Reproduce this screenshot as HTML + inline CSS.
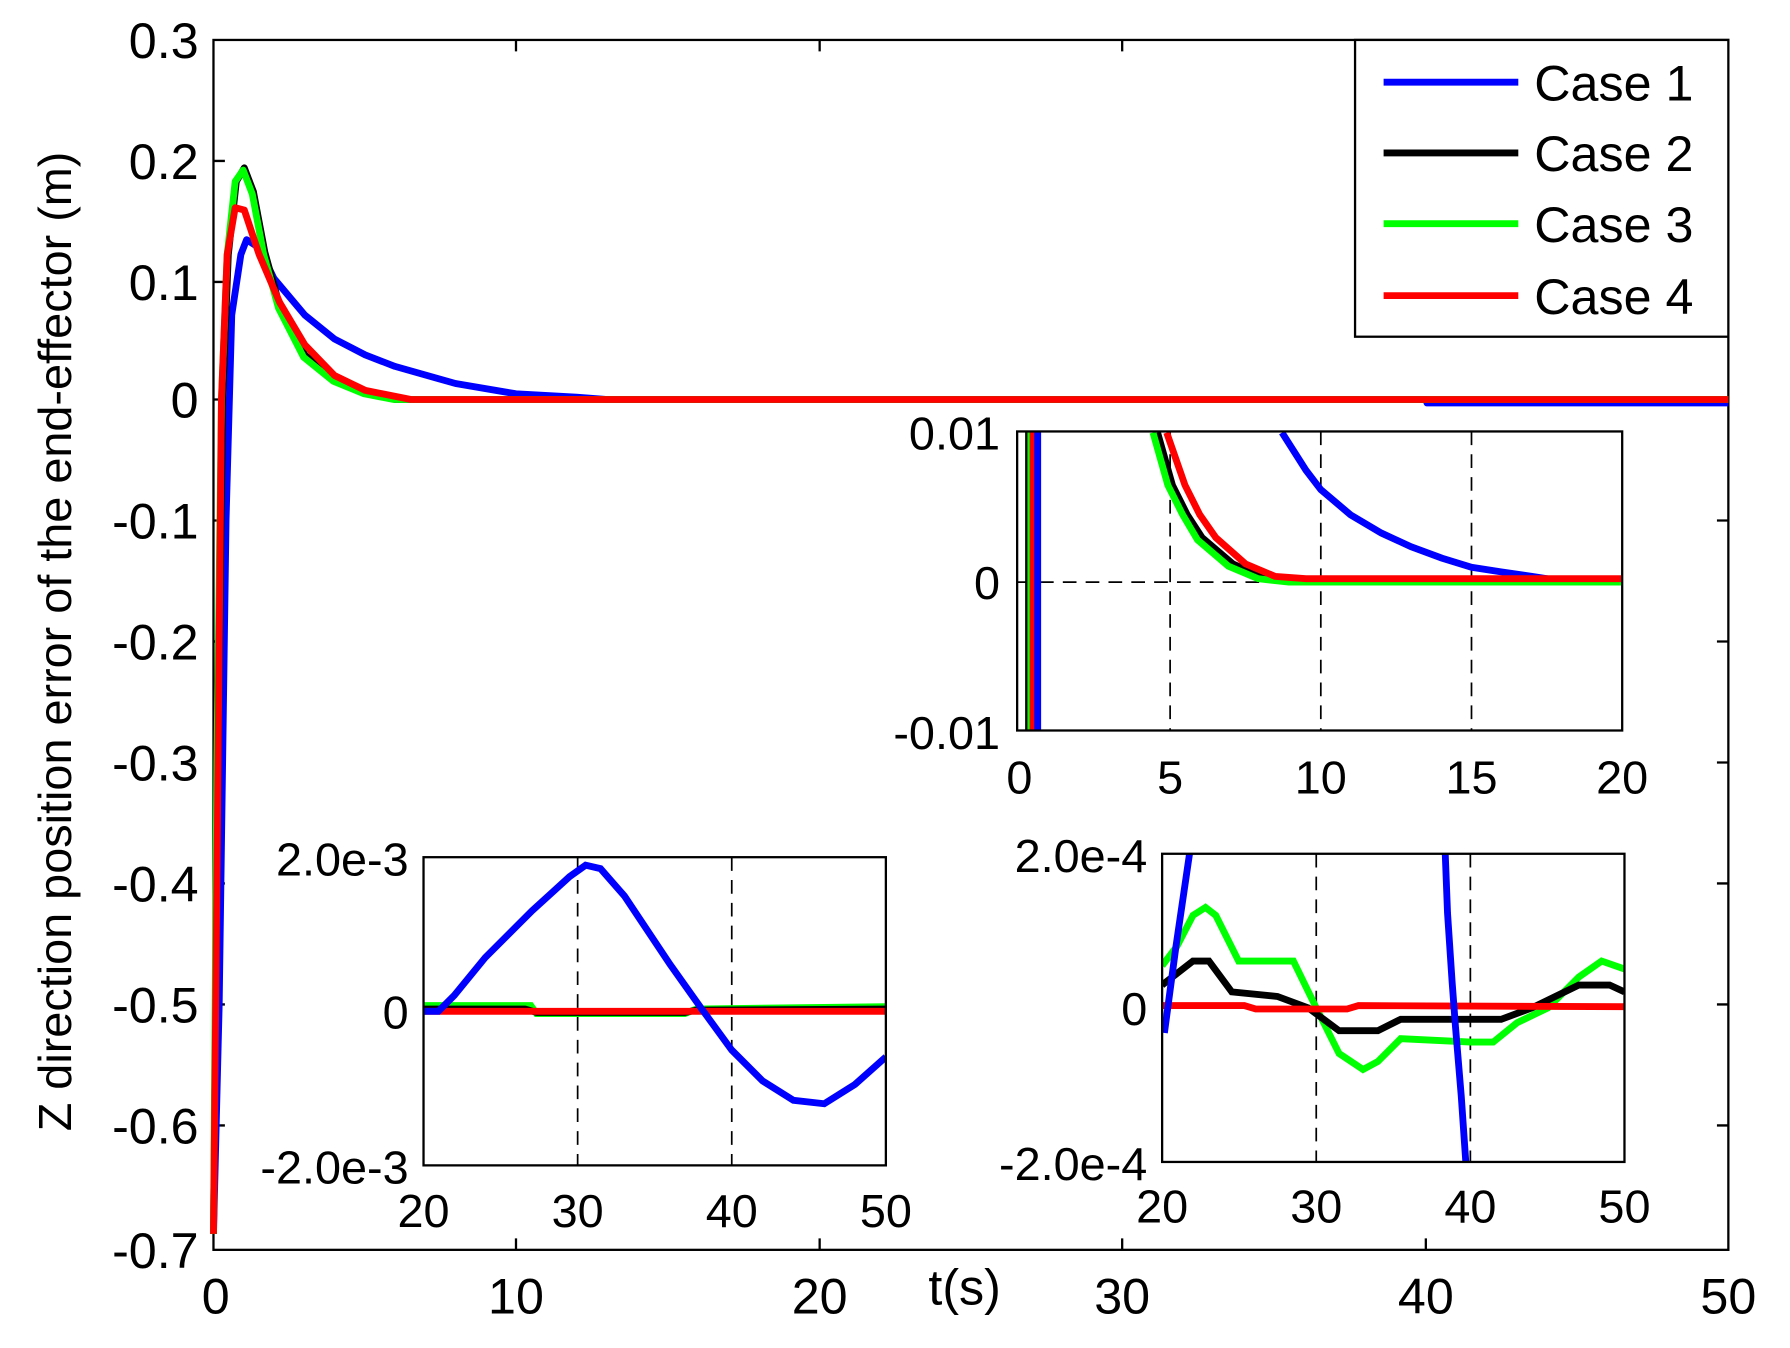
<!DOCTYPE html>
<html><head><meta charset="utf-8"><style>html,body{margin:0;padding:0;background:#fff}svg{display:block}text{font-family:"Liberation Sans",Arial,sans-serif;fill:#000}</style></head><body>
<svg width="1790" height="1348" viewBox="0 0 1568 1181" preserveAspectRatio="none" xmlns="http://www.w3.org/2000/svg">
<defs>
<clipPath id="c1"><rect x="891" y="378" width="530" height="262"/></clipPath>
<clipPath id="c2"><rect x="371" y="751" width="405" height="270"/></clipPath>
<clipPath id="c3"><rect x="1018" y="748" width="405" height="270"/></clipPath>
</defs>
<rect width="1568" height="1181" fill="#fff"/>
<g stroke="#000" stroke-width="2" fill="none">
<rect x="187" y="35" width="1327" height="1060"/>
<path d="M187 141h10M187 247h10M187 350h10M187 456h10M187 562h10M187 668h10M187 774h10M187 880h10M187 986h10M1514 141h-10M1514 247h-10M1514 456h-10M1514 562h-10M1514 668h-10M1514 774h-10M1514 880h-10M1514 986h-10"/>
<path d="M452 1095v-10M718 1095v-10M983 1095v-10M1249 1095v-10M452 35v10M718 35v10M983 35v10M1249 35v10"/>
</g>
<g font-size="44" text-anchor="end">
<text x="174" y="51">0.3</text><text x="174" y="157">0.2</text><text x="174" y="263">0.1</text><text x="174" y="366">0</text>
<text x="174" y="472">-0.1</text><text x="174" y="578">-0.2</text><text x="174" y="684">-0.3</text><text x="174" y="790">-0.4</text>
<text x="174" y="896">-0.5</text><text x="174" y="1002">-0.6</text><text x="174" y="1111">-0.7</text>
</g>
<g font-size="44" text-anchor="middle">
<text x="189" y="1151">0</text><text x="452" y="1151">10</text><text x="718" y="1151">20</text><text x="983" y="1151">30</text><text x="1249" y="1151">40</text><text x="1514" y="1151">50</text>
<text x="845" y="1143">t(s)</text>
<text transform="translate(62,562) rotate(-90)" font-size="41">Z direction position error of the end-effector (m)</text>
</g>
<g fill="none" stroke-width="6" stroke-linejoin="round">
<polyline stroke="#00f" points="187,1081 192,880 198,456 203,276 211,223 216,210 227,217 240,244 267,276 293,297 320,311 346,321 399,336 452,345 505,348 532,350 1249,350 1250,353 1514,353"/>
<polyline stroke="#000" points="187,1081 191,668 195,350 200,223 207,159 214,147 222,168 232,221 245,268 267,311 293,332 320,343 346,350 1514,350"/>
<polyline stroke="#0f0" points="187,1081 190,668 194,350 199,223 206,159 213,149 221,170 231,223 244,270 266,313 292,334 319,345 345,350 1514,350"/>
<polyline stroke="#f00" points="187,1081 190,774 194,350 199,223 206,182 214,184 227,223 245,265 267,302 293,329 320,342 360,350 1514,350"/>
</g>
<rect x="1187" y="35" width="327" height="260" fill="#fff" stroke="#000" stroke-width="2"/>
<g stroke-width="6"><path d="M1212 72h118" stroke="#00f"/><path d="M1212 134h118" stroke="#000"/><path d="M1212 196h118" stroke="#0f0"/><path d="M1212 259h118" stroke="#f00"/></g>
<g font-size="44"><text x="1344" y="88">Case 1</text><text x="1344" y="150">Case 2</text><text x="1344" y="212">Case 3</text><text x="1344" y="275">Case 4</text></g>
<rect x="891" y="378" width="530" height="262" fill="#fff" stroke="none"/>
<g stroke="#000" stroke-width="1.5" stroke-dasharray="12,8" fill="none"><path d="M1025 378v262M1157 378v262M1289 378v262M891 510h530"/></g>
<g clip-path="url(#c1)" fill="none" stroke-width="6">
<path d="M901 378V640" stroke="#000"/><path d="M903 378V640" stroke="#0f0"/><path d="M905 378V640" stroke="#f00"/><path d="M909 378V640" stroke="#00f"/>
<polyline stroke="#00f" points="1123,379 1144,412 1157,429 1183,451 1210,467 1236,479 1263,489 1289,497 1315,501 1342,505 1368,509 1421,510"/>
<polyline stroke="#000" points="1014,379 1027,425 1040,451 1053,471 1080,494 1106,506 1133,510 1421,510"/>
<polyline stroke="#0f0" points="1010,379 1023,425 1036,451 1049,473 1076,496 1102,507 1129,510 1421,510"/>
<polyline stroke="#f00" points="1022,379 1038,425 1051,451 1065,471 1091,494 1117,505 1144,507 1421,507"/>
</g>
<rect x="891" y="378" width="530" height="262" fill="none" stroke="#000" stroke-width="2"/>
<g font-size="41" text-anchor="end"><text x="876" y="394">0.01</text><text x="876" y="525">0</text><text x="876" y="656">-0.01</text></g>
<g font-size="41" text-anchor="middle"><text x="893" y="695">0</text><text x="1025" y="695">5</text><text x="1157" y="695">10</text><text x="1289" y="695">15</text><text x="1421" y="695">20</text></g>
<rect x="371" y="751" width="405" height="270" fill="#fff"/>
<g stroke="#000" stroke-width="1.5" stroke-dasharray="12,8"><path d="M506 751v270M641 751v270"/></g>
<g clip-path="url(#c2)" fill="none" stroke-width="6">
<polyline stroke="#0f0" points="371,881 465,881 470,888 600,888 610,884 776,882"/>
<polyline stroke="#000" points="371,884 460,884 470,887 600,887 610,885 776,884"/>
<polyline stroke="#f00" points="371,886 776,886"/>
<polyline stroke="#00f" points="371,886 384,886 398,872 425,839 466,798 499,768 513,758 526,761 547,785 587,845 614,883 641,920 668,947 695,964 722,967 749,950 776,926"/>
</g>
<rect x="371" y="751" width="405" height="270" fill="none" stroke="#000" stroke-width="2"/>
<g font-size="41" text-anchor="end"><text x="358" y="767">2.0e-3</text><text x="358" y="901">0</text><text x="358" y="1037">-2.0e-3</text></g>
<g font-size="41" text-anchor="middle"><text x="371" y="1075">20</text><text x="506" y="1075">30</text><text x="641" y="1075">40</text><text x="776" y="1075">50</text></g>
<rect x="1018" y="748" width="405" height="270" fill="#fff"/>
<g stroke="#000" stroke-width="1.5" stroke-dasharray="12,8"><path d="M1153 748v270M1288 748v270"/></g>
<g clip-path="url(#c3)" fill="none" stroke-width="6">
<polyline stroke="#0f0" points="1018,846 1031,829 1045,802 1056,795 1065,802 1085,842 1133,842 1153,883 1173,923 1194,937 1207,930 1227,910 1288,913 1308,913 1329,896 1356,883 1383,856 1403,842 1423,849"/>
<polyline stroke="#000" points="1018,863 1045,842 1059,842 1079,869 1119,873 1146,883 1173,903 1207,903 1227,893 1315,893 1342,883 1383,863 1410,863 1423,869"/>
<polyline stroke="#f00" points="1018,881 1090,881 1100,884 1180,884 1190,881 1423,882"/>
<polyline stroke="#00f" points="1020,905 1030,830 1042,748"/>
<polyline stroke="#00f" points="1266,748 1268,800 1272,860 1275,900 1280,960 1284,1018"/>
</g>
<rect x="1018" y="748" width="405" height="270" fill="none" stroke="#000" stroke-width="2"/>
<g font-size="41" text-anchor="end"><text x="1005" y="764">2.0e-4</text><text x="1005" y="898">0</text><text x="1005" y="1034">-2.0e-4</text></g>
<g font-size="41" text-anchor="middle"><text x="1018" y="1071">20</text><text x="1153" y="1071">30</text><text x="1288" y="1071">40</text><text x="1423" y="1071">50</text></g>
</svg>
</body></html>
